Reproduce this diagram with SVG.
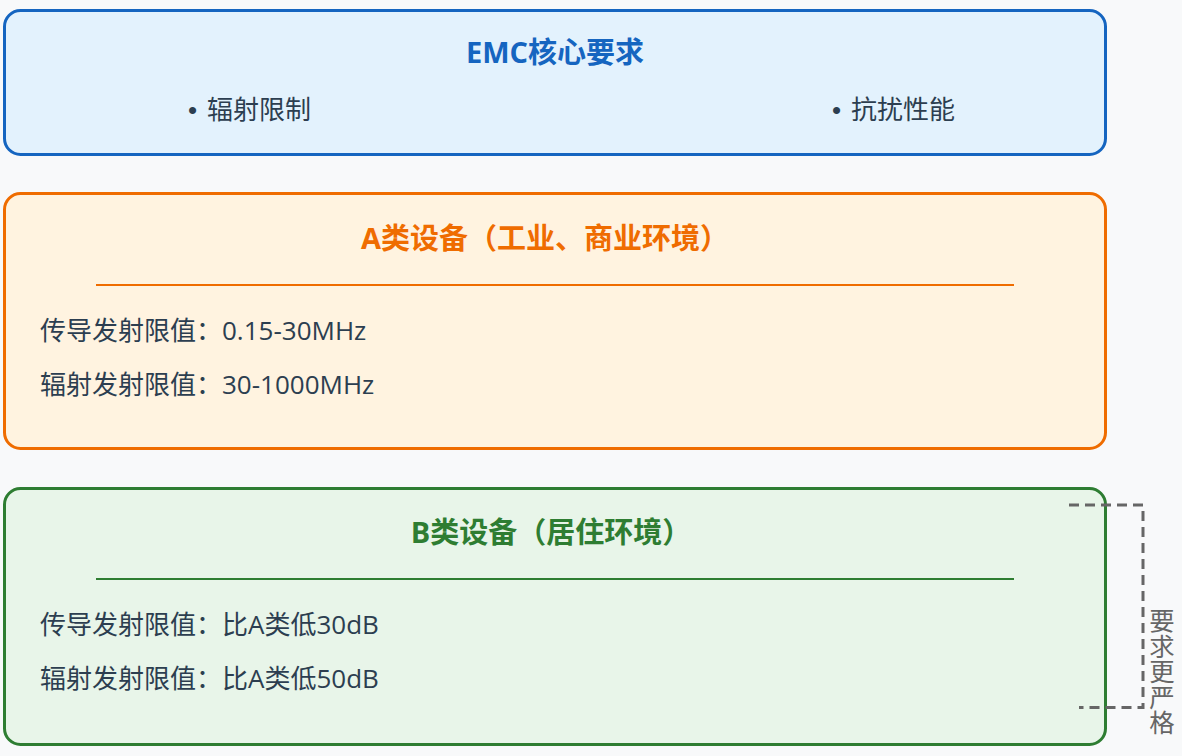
<svg xmlns="http://www.w3.org/2000/svg" width="1182" height="756" viewBox="0 0 1182 756">
<style>
.box{stroke-width:3}
.title{font-family:"Open Sans","Noto Sans CJK SC",sans-serif;font-size:29px;font-weight:bold;text-anchor:middle}
.body{font-family:"Open Sans","Noto Sans CJK SC",sans-serif;font-size:26px;fill:#2c3e50}
.dot{font-family:"Liberation Sans",sans-serif}
.side{font-family:"Noto Sans CJK SC",sans-serif;font-size:25.4px;fill:#666666;writing-mode:vertical-rl}
</style>
<rect x="0" y="0" width="1182" height="756" fill="#f8f9fa"/>
<g id="core">
<rect class="box" x="4.5" y="10.5" width="1101" height="144" rx="16" fill="#e3f2fd" stroke="#1565c0"/>
<text class="title" x="555" y="63" fill="#1565c0">EMC核心要求</text>
<text class="body" x="188" y="119"><tspan class="dot">•</tspan><tspan x="207">辐射限制</tspan></text>
<text class="body" x="832" y="119"><tspan class="dot">•</tspan><tspan x="851">抗扰性能</tspan></text>
</g>
<g id="classA">
<rect class="box" x="4.5" y="193.5" width="1101" height="255" rx="16" fill="#fff3e0" stroke="#ef6c00"/>
<text class="title" x="545" y="249" fill="#ef6c00">A类设备（工业、商业环境）</text>
<line x1="96" y1="285" x2="1014" y2="285" stroke="#ef6c00" stroke-width="2"/>
<text class="body" x="40" y="340">传导发射限值：0.15-30MHz</text>
<text class="body" x="40" y="394">辐射发射限值：30-1000MHz</text>
</g>
<g id="classB">
<rect class="box" x="4.5" y="488.5" width="1101" height="256" rx="16" fill="#e8f5e9" stroke="#2e7d32"/>
<text class="title" x="551" y="543" fill="#2e7d32">B类设备（居住环境）</text>
<line x1="96" y1="579" x2="1014" y2="579" stroke="#2e7d32" stroke-width="2"/>
<text class="body" x="40" y="634">传导发射限值：比A类低30dB</text>
<text class="body" x="40" y="688">辐射发射限值：比A类低50dB</text>
</g>
<g id="connectors">
<path d="M1069,505 H1143 V707.5 H1079" fill="none" stroke="#666666" stroke-width="3" stroke-dasharray="10,6"/>
</g>
<g id="note">
<text class="side" x="1162" y="608">要求更严格</text>
</g>
</svg>
